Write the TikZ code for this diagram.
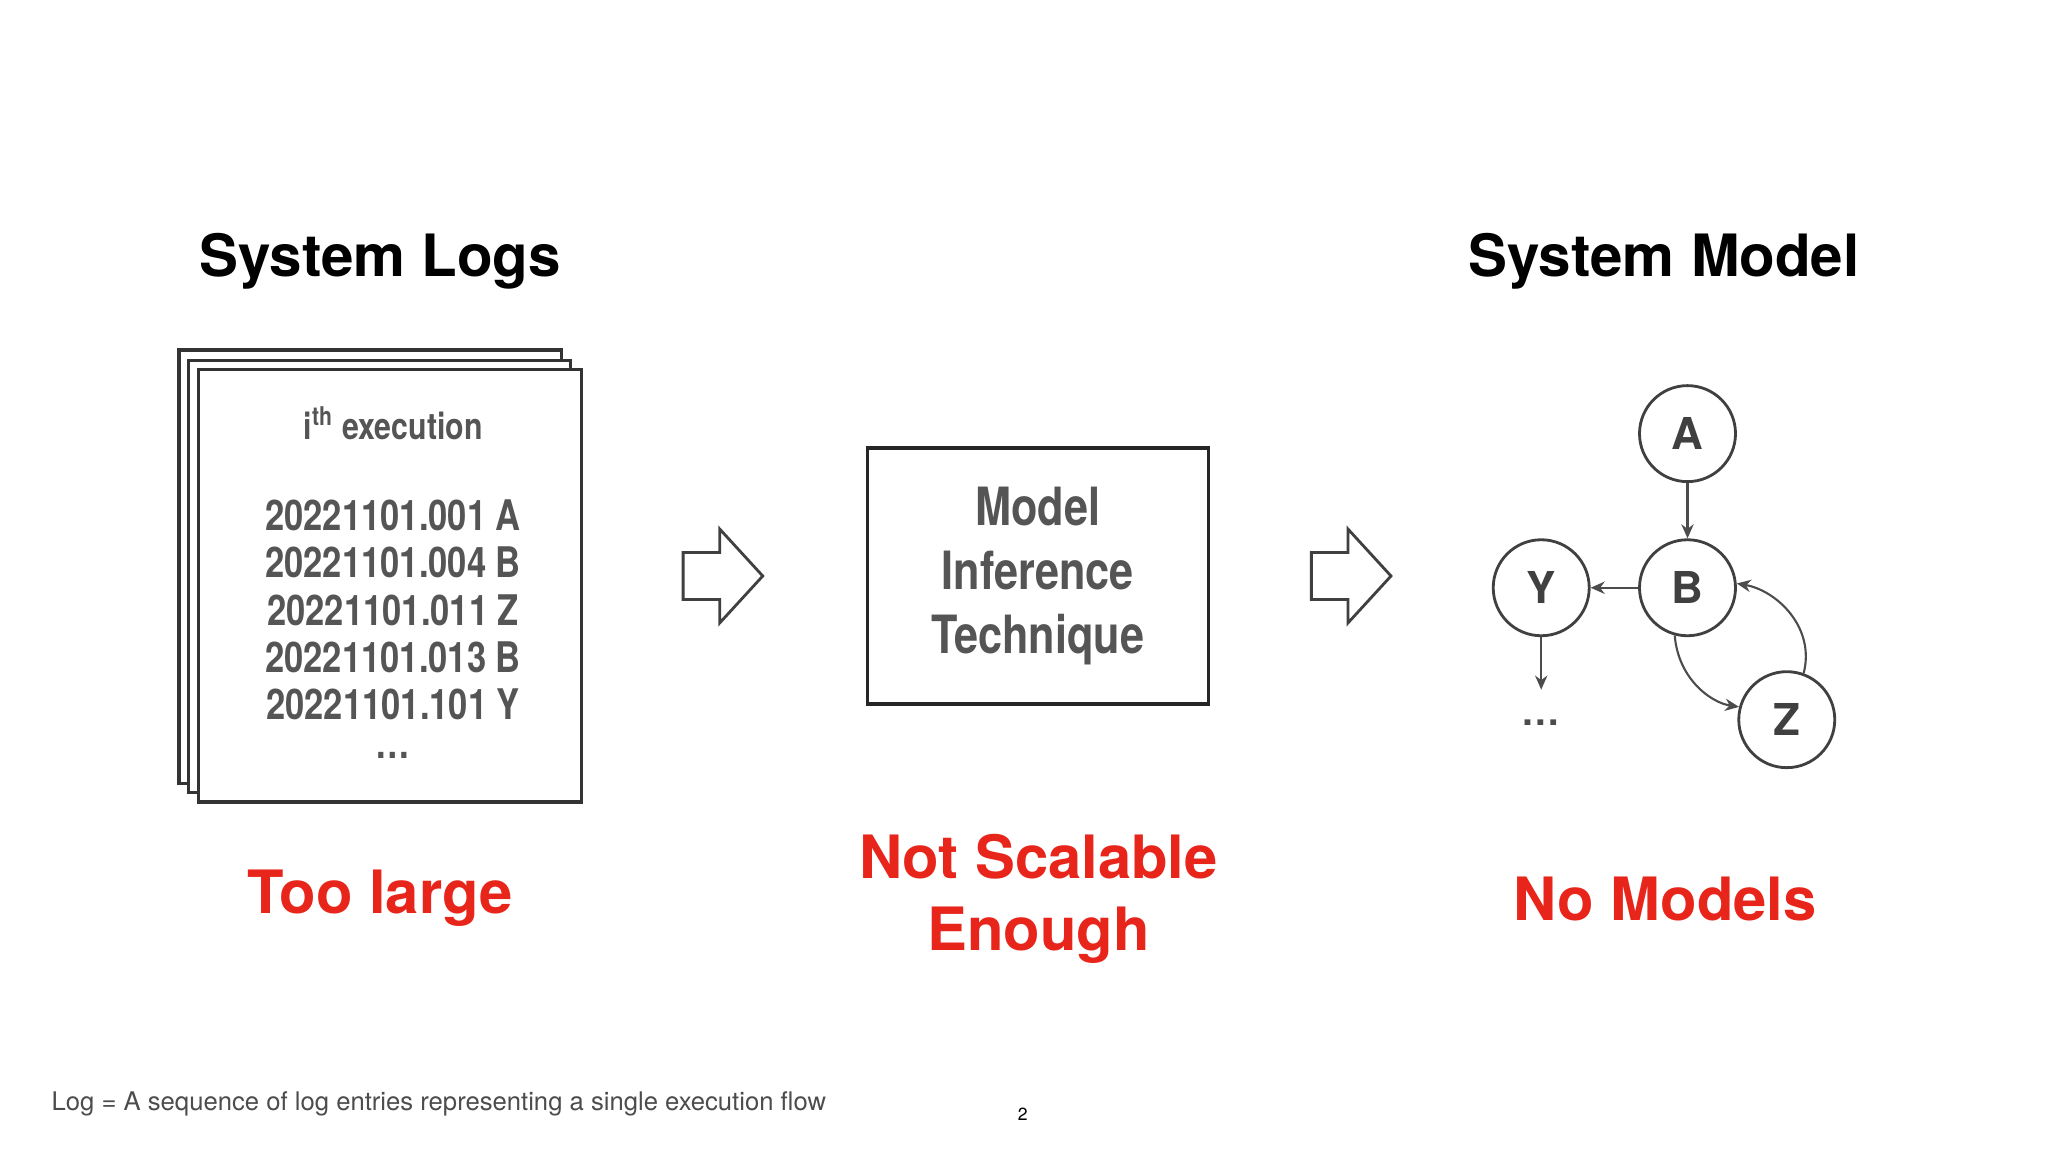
\documentclass[tikz,border=0pt]{standalone}
\usepackage{fontspec}
\setmainfont{TeX Gyre Heros}
\newfontfamily\condf[FakeStretch=0.82]{TeX Gyre Heros}
\usetikzlibrary{arrows.meta}
\definecolor{redt}{HTML}{E8251B}
\definecolor{grayt}{HTML}{555555}
\begin{document}
\begin{tikzpicture}[x=0.013061cm,y=-0.013061cm,
  page/.style={draw=black!80,line width=0.9pt,fill=white},
  title/.style={font=\fontsize{16.6}{20}\selectfont\bfseries},
  redlab/.style={font=\fontsize{17}{20.5}\selectfont\bfseries,text=redt,align=center},
  logt/.style={font=\condf\fontsize{12}{13.45}\selectfont\bfseries,text=grayt,align=center},
  state/.style={circle,draw=black!75,line width=0.8pt,minimum size=0.96cm,inner sep=0pt,font=\fontsize{12.5}{15}\selectfont\bfseries,text=black!75},
  edge/.style={draw=black!70,line width=0.6pt,-{Stealth[length=4pt,width=3.5pt]}},
  barrow/.style={draw=black!75,line width=0.8pt,fill=white}]
\useasboundingbox (0,0) rectangle (1568,882);
% titles
\node[title] (t1) at (291,200) {System Logs};
\node[title] (t2) at (1274,200) {System Model};
% pages
\draw[page] (137,268) rectangle (430,600);
\draw[page] (144,276) rectangle (437,607);
\draw[page] (152,283) rectangle (445,614);
\node[logt,font=\condf\fontsize{10.5}{12}\selectfont\bfseries] (ith) at (301,324) {i\textsuperscript{th} execution};
\node[logt] (logs) at (301,467) {20221101.001 A\\20221101.004 B\\20221101.011 Z\\20221101.013 B\\20221101.101 Y};
\node[logt] (ldots) at (301,578) {\dots};
% block arrows
\foreach \x/\n in {523/ba1,1004/ba2}{
  \draw[barrow] (\x,423) -- (\x+28,423) -- (\x+28,405) -- (\x+61,441) -- (\x+28,477) -- (\x+28,459) -- (\x,459) -- cycle;
}
% box
\node[draw=black!85,line width=0.9pt,minimum width=261*0.013061cm,minimum height=196*0.013061cm,
  font=\condf\fontsize{15}{18.3}\selectfont\bfseries,text=grayt,align=center] (mit) at (794.5,441) {Model\\Inference\\Technique};
% red labels
\node[redlab] (r1) at (291,688) {Too large};
\node[redlab] (r2) at (795,688) {Not Scalable\\Enough};
\node[redlab] (r3) at (1275,688) {No Models};
% graph
\node[state] (A) at (1292,332) {A};
\node[state] (B) at (1292,450) {B};
\node[state] (Y) at (1180,450) {Y};
\node[state] (Z) at (1368,551) {Z};
\node[font=\fontsize{11}{14}\selectfont\bfseries,text=black!70] (dots) at (1180,553) {\dots};
\coordinate (yd) at (1180,528);
\draw[edge] (A) -- (B);
\draw[edge] (B) -- (Y);
\draw[edge] (Y) -- (yd);
\draw[edge] (B.255) .. controls (1285,520) and (1310,538) .. (Z.165);
\draw[edge] (Z.70) .. controls (1390,480) and (1360,452) .. (B.5);
% footer
\node[anchor=west,font=\fontsize{7.3}{9}\selectfont,text=black!70] (foot) at (30,845) {Log = A sequence of log entries representing a single execution flow};
\node[font=\fontsize{5}{6}\selectfont] (pg) at (783,853) {2};
\end{tikzpicture}
\end{document}
